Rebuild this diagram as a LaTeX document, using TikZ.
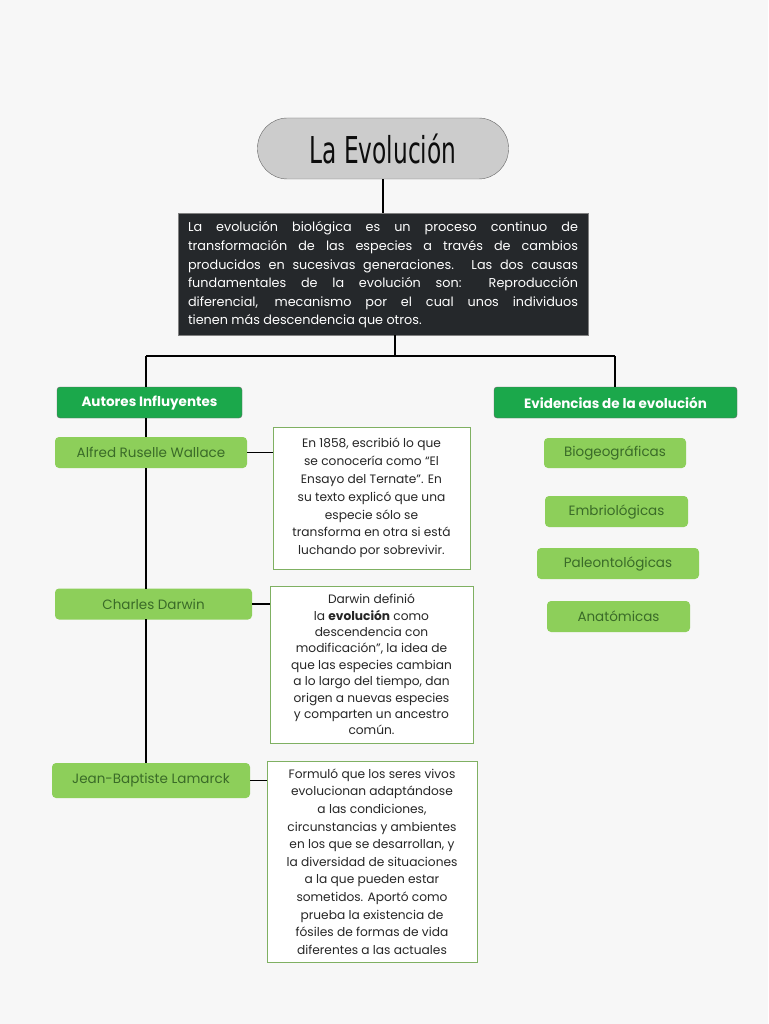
\documentclass[tikz,border=0pt]{standalone}
\usepackage{fontspec}
\setmainfont{Poppins}
\newfontfamily\titlefont{DejaVu Sans Condensed}
\usetikzlibrary{positioning}
\definecolor{bg}{HTML}{F7F7F7}
\definecolor{darkbox}{HTML}{25282B}
\definecolor{dgreen}{HTML}{1BA84B}
\definecolor{lgreen}{HTML}{8DCF5A}
\definecolor{tgreen}{HTML}{3A6B28}
\definecolor{bgreen}{HTML}{7FB062}
\tikzset{
 conn/.style={line width=1.4pt,black},
 head/.style={draw=black!60,fill=dgreen,rounded corners=3pt,text=white,font=\bfseries\fontsize{13.5}{15}\selectfont,inner sep=0pt},
 item/.style={fill=lgreen,rounded corners=4pt,text=tgreen,font=\fontsize{13.5}{15}\selectfont,inner sep=0pt},
 desc/.style={draw=bgreen,line width=0.9pt,fill=white,align=center,font=\fontsize{12.2}{17.8}\selectfont,inner sep=0pt,text=black!85},
}
\begin{document}
\begin{tikzpicture}[x=1pt,y=-1pt]
\useasboundingbox (0,0) rectangle (768,1024);
\fill[bg] (0,0) rectangle (768,1024);
% title
\node[draw=black!60,fill=black!20,rounded corners=30pt,minimum width=251pt,minimum height=61pt,inner sep=0pt] (title) at (383,148.5) {};
\node[font=\titlefont\fontsize{37}{40}\selectfont,text=black!95,xscale=0.7] (tt) at (383,148.5) {La Evolución};
% dark box
\node[fill=darkbox,draw=black!50,minimum width=410pt,minimum height=122pt,inner sep=0pt] (main) at (383,274) {};
\node[text=white,text width=390pt,align=justify,font=\fontsize{12.8}{18.6}\selectfont,inner sep=0pt] (maintext) at (383,275) {\parfillskip=0pt\relax La evolución biológica es un proceso continuo de\par transformación de las especies a través de cambios\par producidos en sucesivas generaciones. Las dos causas\par fundamentales de la evolución son: Reproducción\par diferencial, mecanismo por el cual unos individuos\par\parfillskip=0pt plus 1fil\relax tienen más descendencia que otros.\par};
\coordinate (mb) at (395,335);
\coordinate (j) at (395,356);
\coordinate (jl) at (146,356);
\coordinate (jr) at (615,356);
\draw[conn] (title.south) -- (main.north);
% heads
\node[head,minimum width=185pt,minimum height=31pt] (aut) at (149.5,402.5) {Autores Influyentes};
\node[head,minimum width=243pt,minimum height=31pt] (evi) at (615.5,402.5) {Evidencias de la evolución};
\draw[conn] (mb) -- (j);
\draw[conn] (jl) -- (jr);
\draw[conn] (jl) -- (jl|-aut.north);
\draw[conn] (jr) -- (jr|-evi.north);
% authors
\node[item,minimum width=192pt,minimum height=31pt] (wal) at (151,452.5) {Alfred Ruselle Wallace};
\node[item,minimum width=197pt,minimum height=31pt] (dar) at (153.5,604) {Charles Darwin};
\node[item,minimum width=198pt,minimum height=35pt] (lam) at (151,780.5) {Jean-Baptiste Lamarck};
\draw[conn] (146,418) -- (146,437);
\draw[conn] (146,468) -- (146,589);
\draw[conn] (146,619) -- (146,763);
% descriptions
\node[desc,minimum width=197pt,minimum height=142pt] (dwal) at (371.5,498) {En 1858, escribió lo que\\se conocería como “El\\Ensayo del Ternate”. En\\su texto explicó que una\\especie sólo se\\transforma en otra si está\\luchando por sobrevivir.};
\node[desc,minimum width=203pt,minimum height=157pt,font=\fontsize{12.2}{16.4}\selectfont] (ddar) at (371.5,664.5) {Darwin definió\\la \textbf{evolución} como\\descendencia con\\modificación”, la idea de\\que las especies cambian\\a lo largo del tiempo, dan\\origen a nuevas especies\\y comparten un ancestro\\común.};
\node[desc,minimum width=210pt,minimum height=201pt,font=\fontsize{12.2}{17.6}\selectfont] (dlam) at (372,861.5) {Formuló que los seres vivos\\evolucionan adaptándose\\a las condiciones,\\circunstancias y ambientes\\en los que se desarrollan, y\\la diversidad de situaciones\\a la que pueden estar\\sometidos. Aportó como\\prueba la existencia de\\fósiles de formas de vida\\diferentes a las actuales};
\draw[conn] (wal.east) -- (wal.east-|dwal.west);
\draw[conn] (dar.east) -- (dar.east-|ddar.west);
\draw[conn] (lam.east) -- (lam.east-|dlam.west);
% evidences
\node[item,minimum width=142pt,minimum height=30pt] (bio) at (615,453) {Biogeográficas};
\node[item,minimum width=143pt,minimum height=31pt] (emb) at (616.5,511.5) {Embriológicas};
\node[item,minimum width=162pt,minimum height=31pt] (pal) at (618,563.5) {Paleontológicas};
\node[item,minimum width=143pt,minimum height=31pt] (ana) at (618.5,616.5) {Anatómicas};
\end{tikzpicture}
\end{document}
